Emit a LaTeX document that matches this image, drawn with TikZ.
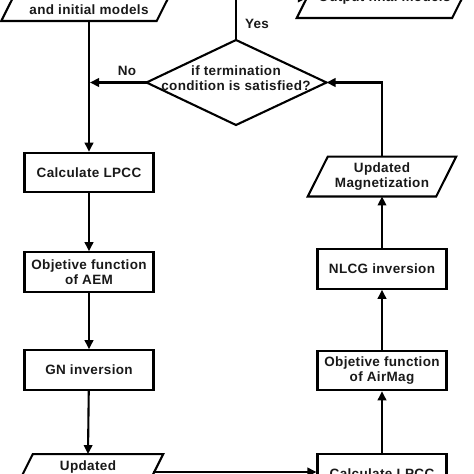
\documentclass[tikz,border=0pt]{standalone}
\usepackage{fontspec}
\setmainfont{Liberation Sans}[LetterSpace=2.5]
\usetikzlibrary{arrows.meta}
\newcommand\drawpara[1]{\draw[ln] ([xshift=-10pt]#1.south west) -- ([xshift=-10pt]#1.south east) -- ([xshift=10pt]#1.north east) -- ([xshift=10pt]#1.north west) -- cycle;}
\begin{document}
\begin{tikzpicture}[x=1pt,y=-1pt,
  ln/.style={line width=2.1pt},
  arr/.style={ln,-{Triangle[length=9pt,width=8.5pt]}},
  lbl/.style={font=\bfseries\fontsize{13.5}{14.5}\selectfont,text=black!90},
  stepbox/.style={lbl,draw,ln,minimum width=129pt,minimum height=39.5pt,inner sep=0pt,align=center},
  parabox/.style={lbl,minimum height=39.5pt,inner sep=0pt,align=center},
  txt/.style={lbl,inner sep=0pt,align=center}]
\useasboundingbox (0,0) rectangle (474,474);
\clip (0,0) rectangle (474,474);
% left column
\node[parabox,minimum width=155pt] (in) at (89,1) {};
\drawpara{in}
\node[txt] (inT) at (89,10) {and initial models};
\node[stepbox] (calc1) at (89,172.5) {Calculate LPCC};
\node[stepbox] (objA) at (89,272) {Objetive function\\of AEM};
\node[stepbox] (gn) at (89,370) {GN inversion};
\node[parabox,minimum width=130pt] (upd1) at (88,474) {};
\drawpara{upd1}
\node[txt] (upd1T) at (88,467) {Updated};
% right column
\node[parabox,minimum width=155pt] (out) at (384.5,-2) {Output final models};
\drawpara{out}
\node[parabox,minimum width=128pt] (updM) at (382,176.5) {Updated\\Magnetization};
\drawpara{updM}
\node[stepbox] (nlcg) at (382,269) {NLCG inversion};
\node[stepbox] (objM) at (382,370.5) {Objetive function\\of AirMag};
\node[stepbox] (calc2) at (382,474) {Calculate LPCC};
% decision
\coordinate (dT) at (236,40);
\coordinate (dL) at (146.5,82.5);
\coordinate (dR) at (326.5,82.5);
\coordinate (dB) at (236,125);
\draw[ln] (dT) -- (dR) -- (dB) -- (dL) -- cycle;
\node[txt,font=\bfseries\fontsize{13.5}{15.3}\selectfont] (dia) at (236,78) {if termination\\condition is satisfied?};
\node[txt] (yes) at (257,24) {Yes};
\node[txt] (no) at (127,71) {No};
% connectors
\draw[arr] (in.south) -- (calc1.north);
\draw[arr] (calc1) -- (objA);
\draw[arr] (objA) -- (gn);
\draw[arr] (gn) -- (upd1.north);
\draw[arr,shorten >=1pt] (dL) -- (dL -| in.south);
\draw[arr] (dT) |- (out.west);
\draw[arr] ([yshift=2pt]upd1.east) -- ([yshift=2pt]calc2.west);
\draw[arr] (calc2) -- (objM);
\draw[arr] (objM) -- (nlcg);
\draw[arr] (nlcg) -- (updM.south);
\draw[arr] (updM.north) |- (dR);
\end{tikzpicture}
\end{document}
